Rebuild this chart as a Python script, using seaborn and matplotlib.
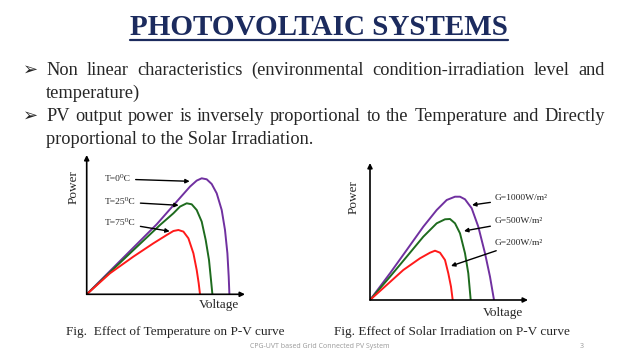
import matplotlib
matplotlib.use('Agg')
import matplotlib.pyplot as plt
import seaborn as sns
import pandas as pd
from matplotlib.lines import Line2D

# ---- data (voltage / power in arbitrary units) ----
temp_labels = ['T=0⁰C', 'T=25⁰C', 'T=75⁰C']
temp_v_0 = [0, 23.3, 46.7, 70, 90, 103.3, 110, 115, 120, 125, 130, 135, 138.3, 140.7, 142, 142.7]
temp_p_0 = [0, 23.3, 46.7, 70, 92.7, 107.7, 113.7, 116, 115, 110.3, 101, 84.3, 64.3, 41, 17.7, 0]
temp_v_25 = [0, 43.3, 73.3, 86.7, 93.3, 100, 105, 110, 115, 119, 122.3, 124.3, 125.7]
temp_p_25 = [0, 41, 69.3, 81, 87.7, 91, 90, 84.3, 72.7, 54.3, 34.3, 14.3, 0]
temp_v_75 = [0, 23.3, 46.7, 66.7, 80, 86.7, 91.7, 96.7, 101.7, 106.7, 110, 112, 113.3]
temp_p_75 = [0, 21, 37.7, 51, 59.3, 63.3, 64.3, 62.7, 56, 41, 24.3, 11, 0]

irr_labels = ['G=1000W/m²', 'G=500W/m²', 'G=200W/m²']
irr_v_1000 = [0, 20, 36.7, 53.3, 66.7, 76.7, 85, 90, 95, 101.7, 108.3, 115, 120, 124]
irr_p_1000 = [0, 26.7, 50, 73.3, 90, 100, 103.3, 103.3, 100.7, 91.7, 73.3, 46.7, 23.3, 0]
irr_v_500 = [0, 20, 36.7, 53.3, 66.7, 75, 80, 85, 90, 95, 98.3, 100.7]
irr_p_500 = [0, 23.3, 43.3, 63.3, 76.7, 80.7, 81, 76.7, 66.7, 46.7, 26.7, 0]
irr_v_200 = [0, 16.7, 33.3, 50, 60, 65, 70, 75, 78.3, 81, 82.7]
irr_p_200 = [0, 15, 30, 41.7, 47.3, 49.3, 47.3, 40, 26.7, 13.3, 0]

curve_colors = ['#7030A0', '#1E6B1E', '#FF1A1A']

bullet_lines = [
    'Non linear characteristics (environmental condition-irradiation level and',
    'temperature)',
    'PV output power is inversely proportional to the Temperature and Directly',
    'proportional to the Solar Irradiation.',
]

W, H = 638, 359

temp_df = pd.concat([
    pd.DataFrame({'voltage': temp_v_0, 'power': temp_p_0, 'curve': temp_labels[0]}),
    pd.DataFrame({'voltage': temp_v_25, 'power': temp_p_25, 'curve': temp_labels[1]}),
    pd.DataFrame({'voltage': temp_v_75, 'power': temp_p_75, 'curve': temp_labels[2]}),
])
irr_df = pd.concat([
    pd.DataFrame({'voltage': irr_v_1000, 'power': irr_p_1000, 'curve': irr_labels[0]}),
    pd.DataFrame({'voltage': irr_v_500, 'power': irr_p_500, 'curve': irr_labels[1]}),
    pd.DataFrame({'voltage': irr_v_200, 'power': irr_p_200, 'curve': irr_labels[2]}),
])

sns.set_style('white')
plt.rcParams['font.family'] = ['Liberation Serif', 'DejaVu Serif', 'DejaVu Sans']

fig = plt.figure(figsize=(W / 100, H / 100), dpi=100)
fig.patch.set_facecolor('white')


def fx(px):
    return px / W


def fy(py):
    return 1 - py / H


def pv_axes(rect, df, labels, xlim, ylim, ann_text, ann_tip, ylab_pos, xlab_pos):
    ax = fig.add_axes(rect)
    sns.lineplot(data=df, x='voltage', y='power', hue='curve', palette=dict(zip(labels, curve_colors)),
                 estimator=None, sort=False, legend=False, lw=1.4, ax=ax)
    ax.set_xlim(*xlim)
    ax.set_ylim(*ylim)
    ax.axis('off')
    arrow = dict(arrowstyle='-|>', color='black', lw=1.2, mutation_scale=7, shrinkA=0, shrinkB=0)
    ax.annotate('', xy=(1, 0), xytext=(0, 0), xycoords='axes fraction', arrowprops=arrow, annotation_clip=False)
    ax.annotate('', xy=(0, 1), xytext=(0, 0), xycoords='axes fraction', arrowprops=arrow, annotation_clip=False)
    for lab, txt, tip in zip(labels, ann_text, ann_tip):
        ax.annotate(lab, xy=tip, xytext=txt, ha='left', va='center', fontsize=6.8,
                    arrowprops=dict(arrowstyle='-|>', color='black', lw=1.0, mutation_scale=6,
                                    shrinkA=1, shrinkB=0))
    fig.text(fx(ylab_pos[0]), fy(ylab_pos[1]), 'Power', rotation=90, ha='center', va='center', fontsize=9.5)
    fig.text(fx(xlab_pos[0]), fy(xlab_pos[1]), 'Voltage', ha='center', va='center', fontsize=9.5)
    return ax


pv_axes([fx(86.7), fy(294.3), 158.3 / W, 139.3 / H], temp_df, temp_labels,
        (0, 158.3), (0, 139.3),
        [(18.3, 115.3), (18.3, 92.3), (18.3, 71.3)],
        [(103, 113), (92, 89), (83, 63)],
        (74, 187), (219, 305))

pv_axes([fx(370), fy(300), 158 / W, 137 / H], irr_df, irr_labels,
        (0, 158), (0, 137),
        [(125, 102), (125, 79), (125, 57)],
        [(102, 95), (94, 69), (81, 34)],
        (354, 197), (503, 313))

# ---- slide text ----
title = fig.text(0.5, fy(35), 'PHOTOVOLTAIC SYSTEMS', ha='center', va='baseline',
                 fontsize=21, fontweight='bold', color='#1C2B5E')
renderer = fig.canvas.get_renderer()
tb = title.get_window_extent(renderer)
fig.add_artist(Line2D([tb.x0 / W, tb.x1 / W], [fy(40), fy(40)], color='#1C2B5E', lw=1.6))


def justified(words, x0, x1, y, size):
    texts = [fig.text(0, fy(y), w, ha='left', va='baseline', fontsize=size) for w in words]
    widths = [t.get_window_extent(renderer).width for t in texts]
    gap = (x1 - x0 - sum(widths)) / (len(words) - 1)
    x = x0
    for t, w in zip(texts, widths):
        t.set_x(fx(x))
        x += w + gap


text_size = 13.2
line_base = [75, 98, 121, 144]
for i, (line, y) in enumerate(zip(bullet_lines, line_base)):
    if i % 2 == 0:
        fig.text(fx(23), fy(y), '➢', ha='left', va='baseline', fontsize=13, family=['DejaVu Sans'])
        justified(line.split(' '), 46, 605, y, text_size)
    else:
        fig.text(fx(46), fy(y), line, ha='left', va='baseline', fontsize=text_size)

fig.text(fx(66), fy(332), 'Fig.  Effect of Temperature on P-V curve', ha='left', va='center', fontsize=9.5)
fig.text(fx(334), fy(332), 'Fig. Effect of Solar Irradiation on P-V curve', ha='left', va='center', fontsize=9.5)
fig.text(fx(320), fy(347), 'CPG-UVT based Grid Connected PV System', ha='center', va='center',
         fontsize=5, color='#999999', family=['Open Sans'])
fig.text(fx(582), fy(347), '3', ha='center', va='center', fontsize=5, color='#999999', family=['Open Sans'])

fig.savefig('out.png', dpi=100, facecolor='white')
